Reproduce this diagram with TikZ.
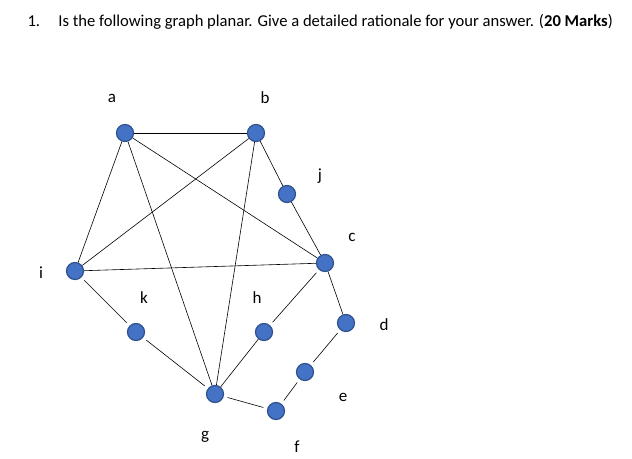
\documentclass[tikz,border=0pt]{standalone}
\usepackage{fontspec}
\setmainfont{Carlito}
\definecolor{nfill}{RGB}{68,114,196}
\definecolor{nline}{RGB}{47,82,143}
\begin{document}
\begin{tikzpicture}[x=1pt,y=-1pt,
  vtx/.style={circle,fill=nfill,draw=nline,line width=1.2pt,minimum size=17pt,inner sep=0pt},
  lbl/.style={font=\fontsize{17}{20}\selectfont},
  edge/.style={black,line width=0.6pt},
  gap/.style={edge,shorten <=4pt,shorten >=4pt}]
\useasboundingbox (0,0) rectangle (632,458);
\node[anchor=west,font=\fontsize{16.6}{20}\selectfont] (title) at (24,22) {1.\hspace{1.1em}Is the following graph planar. Give a detailed rationale for your answer. (\textbf{20 Marks})};
\node[vtx] (a) at (125,133) {};
\node[vtx] (b) at (256,133) {};
\node[vtx] (j) at (287,194) {};
\node[vtx] (c) at (325,263) {};
\node[vtx] (i) at (75,271) {};
\node[vtx] (k) at (136,332) {};
\node[vtx] (h) at (264,332) {};
\node[vtx] (d) at (346,323) {};
\node[vtx] (e) at (305,372) {};
\node[vtx] (g) at (215,394) {};
\node[vtx] (f) at (276,411) {};
\node[lbl] (la) at (112,98) {a};
\node[lbl] (lb) at (265,98) {b};
\node[lbl] (lj) at (320,176) {j};
\node[lbl] (lc) at (352,237) {c};
\node[lbl] (li) at (41,273) {i};
\node[lbl] (lk) at (144,298) {k};
\node[lbl] (lh) at (257,298) {h};
\node[lbl] (ld) at (384,325) {d};
\node[lbl] (le) at (343,397) {e};
\node[lbl] (lg) at (205,437) {g};
\node[lbl] (lf) at (297,447) {f};
\draw[edge] (a) -- (b);
\draw[edge] (a) -- (i);
\draw[edge] (a) -- (c);
\draw[edge] (a) -- (g);
\draw[edge] (b) -- (i);
\draw[edge] (b) -- (g);
\draw[edge] (b) -- (j);
\draw[edge] (j) -- (c);
\draw[edge] (i) -- (c);
\draw[gap] (i) -- (k);
\draw[gap] (k) -- (g);
\draw[edge] (g) -- (h);
\draw[gap] (h) -- (c);
\draw[edge] (c) -- (d);
\draw[gap] (d) -- (e);
\draw[gap] (e) -- (f);
\draw[gap] (f) -- (g);
\end{tikzpicture}
\end{document}
